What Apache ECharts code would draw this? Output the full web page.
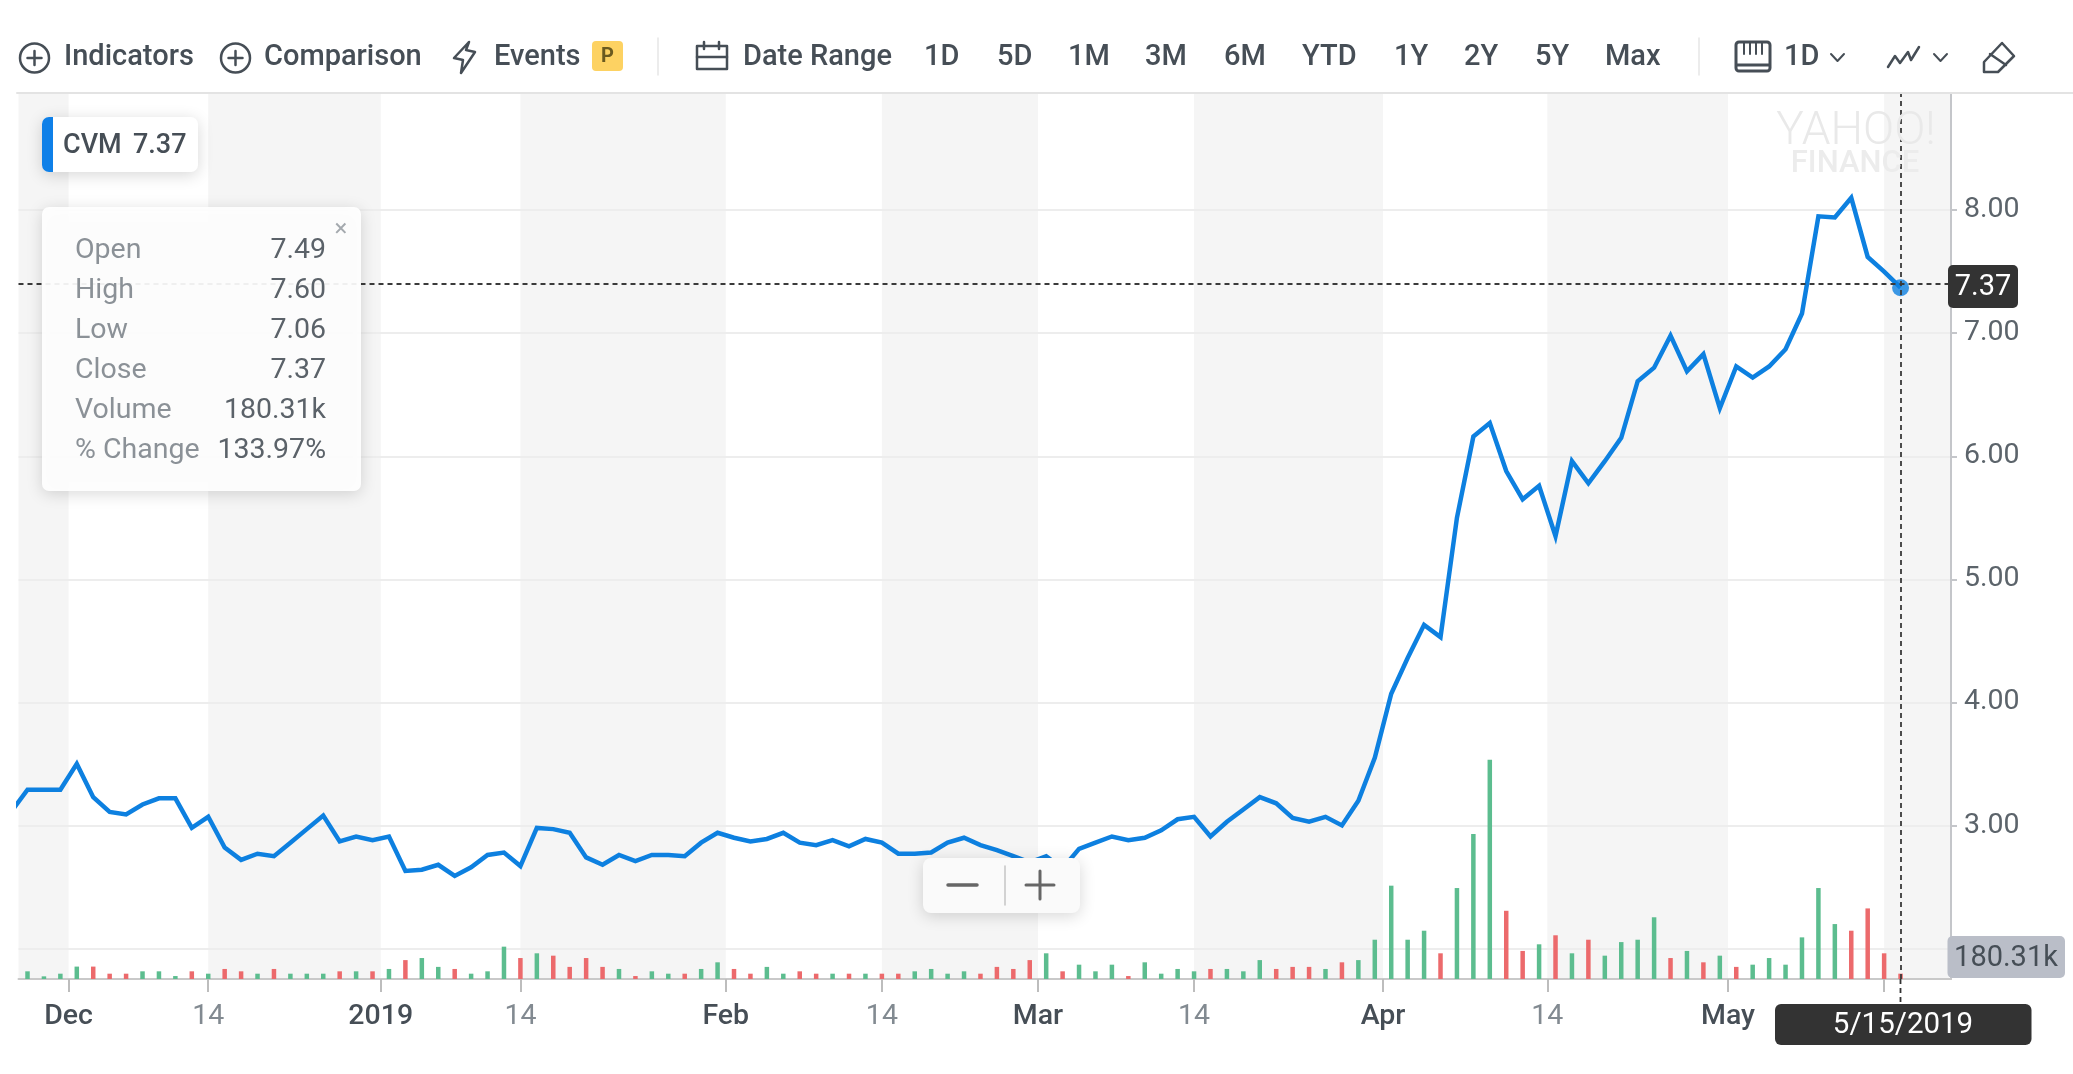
<!DOCTYPE html>
<html>
<head>
<meta charset="utf-8">
<title>CVM</title>
<script src="https://cdn.jsdelivr.net/npm/echarts@6/dist/echarts.min.js"></script>
<style>
html, body { margin: 0; padding: 0; background: #fff; }
#main { width: 2073px; height: 1074px; }
</style>
</head>
<body>
<div id="main"></div>
<script>
// one entry per trading day, first one is 11/27/2018, last one is 5/15/2019
var closes = [
    3.11, 3.29, 3.29, 3.29, 3.50, 3.23, 3.11, 3.09, 3.17, 3.22,
    3.22, 2.98, 3.07, 2.82, 2.72, 2.77, 2.75, 2.86, 2.97, 3.08,
    2.87, 2.91, 2.88, 2.91, 2.63, 2.64, 2.68, 2.59, 2.66, 2.76,
    2.78, 2.67, 2.98, 2.97, 2.94, 2.74, 2.68, 2.76, 2.71, 2.76,
    2.76, 2.75, 2.86, 2.94, 2.90, 2.87, 2.89, 2.94, 2.86, 2.84,
    2.88, 2.83, 2.89, 2.86, 2.77, 2.77, 2.78, 2.86, 2.90, 2.84,
    2.80, 2.75, 2.70, 2.75, 2.65, 2.81, 2.86, 2.91, 2.88, 2.90,
    2.96, 3.05, 3.07, 2.91, 3.03, 3.13, 3.23, 3.18, 3.06, 3.03,
    3.07, 3.00, 3.20, 3.55, 4.07, 4.36, 4.63, 4.53, 5.50, 6.16,
    6.27, 5.88, 5.65, 5.76, 5.35, 5.96, 5.78, 5.96, 6.15, 6.61,
    6.72, 6.98, 6.69, 6.83, 6.39, 6.73, 6.64, 6.73, 6.87, 7.16,
    7.95, 7.94, 8.10, 7.62, 7.50, 7.37
];
// volume in thousands
var volumes = [
    null, 260, 90, 180, 420, 420, 180, 180, 260, 260,
    100, 260, 180, 340, 260, 180, 340, 180, 180, 180,
    260, 260, 260, 340, 640, 710, 410, 340, 180, 260,
    1095, 710, 870, 790, 410, 710, 410, 340, 100, 260,
    180, 180, 340, 565, 340, 180, 410, 180, 260, 180,
    180, 180, 180, 180, 180, 260, 340, 180, 260, 180,
    410, 340, 640, 870, 260, 485, 260, 485, 100, 565,
    180, 340, 260, 340, 340, 260, 640, 340, 410, 410,
    340, 565, 640, 1330, 3160, 1330, 1635, 870, 3080, 4910,
    7420, 2310, 950, 1175, 1480, 870, 1330, 790, 1250, 1330,
    2090, 710, 950, 565, 790, 410, 485, 710, 485, 1410,
    3080, 1860, 1635, 2390, 870, 180.31
];
// 1 = close above the previous day (green), 0 = below (red)
var volumeUp = [
    1, 1, 1, 1, 1, 0, 0, 0, 1, 1,
    1, 0, 1, 0, 0, 1, 0, 1, 1, 1,
    0, 1, 0, 1, 0, 1, 1, 0, 1, 1,
    1, 0, 1, 0, 0, 0, 0, 1, 0, 1,
    1, 0, 1, 1, 0, 0, 1, 1, 0, 0,
    1, 0, 1, 0, 0, 1, 1, 1, 1, 0,
    0, 0, 0, 1, 0, 1, 1, 1, 0, 1,
    1, 1, 1, 0, 1, 1, 1, 0, 0, 0,
    1, 0, 1, 1, 1, 1, 1, 0, 1, 1,
    1, 0, 0, 1, 0, 1, 0, 1, 1, 1,
    1, 0, 1, 0, 1, 0, 1, 1, 1, 1,
    1, 1, 0, 0, 0
];
var tickLabels = ['Dec', '14', '2019', '14', 'Feb', '14', 'Mar', '14', 'Apr', '14', 'May', '14'];
var tickDays = [3.5, 12, 22.5, 31, 43.5, 53, 62.5, 72, 83.5, 93.5, 104.5, 114];
var priceTicks = [2, 3, 4, 5, 6, 7, 8];
var tipLabels = ['Open', 'High', 'Low', 'Close', 'Volume', '% Change'];
var tipValues = ['7.49', '7.60', '7.06', '7.37', '180.31k', '133.97%'];
var rangeLabels = ['1D', '5D', '1M', '3M', '6M', 'YTD', '1Y', '2Y', '5Y', 'Max'];

var lastDay = closes.length - 1;
var cursorPrice = 7.40;
var dayMin = 0.452, dayMax = 118.07;
var FONT = 'Roboto, sans-serif';
var DARK = '#464e56';

function closeData() {
    var out = [];
    for (var i = 0; i < closes.length; i++) {
        out.push([i, closes[i]]);
    }
    return out;
}

function volumeData() {
    var out = [];
    for (var i = 0; i < volumes.length; i++) {
        out.push({
            value: [i, volumes[i]],
            itemStyle: { color: volumeUp[i] ? '#5cbd8f' : '#ec6a6c' }
        });
    }
    return out;
}

// grey bands run between every other month tick
function bandData() {
    var out = [[{ xAxis: dayMin }, { xAxis: tickDays[0] }]];
    for (var i = 1; i < tickDays.length; i += 2) {
        out.push([{ xAxis: tickDays[i] }, { xAxis: i + 1 < tickDays.length ? tickDays[i + 1] : dayMax }]);
    }
    return out;
}

function txt(x, y, text, fontSize, fill, align, weight) {
    return {
        type: 'text', z: 100,
        style: {
            x: x, y: y, text: text, fill: fill || DARK, align: align || 'left', verticalAlign: 'middle',
            fontFamily: FONT, fontSize: fontSize || 29, fontWeight: weight || 400
        }
    };
}

function stroke(shapeType, shape, width, color) {
    return {
        type: shapeType, z: 100, shape: shape,
        style: { fill: 'none', stroke: color || DARK, lineWidth: width || 2.5, lineJoin: 'round', lineCap: 'round' }
    };
}

function seg(x1, y1, x2, y2, width, color) {
    return stroke('line', { x1: x1, y1: y1, x2: x2, y2: y2 }, width, color);
}

function poly(points, width, color) {
    return stroke('polyline', { points: points }, width, color);
}

function box(x, y, w, h, r, fill, shadow, z) {
    var style = { fill: fill };
    if (shadow) {
        style.shadowBlur = 16;
        style.shadowColor = 'rgba(0,0,0,0.16)';
        style.shadowOffsetY = 3;
    }
    return { type: 'rect', z: z || 100, shape: { x: x, y: y, width: w, height: h, r: r }, style: style };
}

function plusCircle(cx, cy) {
    return [
        stroke('circle', { cx: cx, cy: cy, r: 14.5 }),
        seg(cx - 7, cy, cx + 7, cy),
        seg(cx, cy - 7, cx, cy + 7)
    ];
}

function toolbar() {
    var rangeX = [924, 997, 1068, 1145, 1224, 1302, 1394, 1464, 1535, 1605];
    var els = [];
    els = els.concat(plusCircle(34.5, 58), plusCircle(235.5, 58));
    els.push(txt(64, 58, 'Indicators', 29, DARK, 'left', 500));
    els.push(txt(264, 58, 'Comparison', 29, DARK, 'left', 500));
    els.push(stroke('polygon', { points: [[469, 42], [454, 58], [463, 60], [461, 73], [475, 52], [466, 50]] }));
    els.push(txt(494, 58, 'Events', 29, DARK, 'left', 500));
    els.push(box(592, 41, 31, 30, 4, '#fdd262'));
    els.push(txt(607.5, 57, 'P', 20, '#6b5a1f', 'center', 700));
    els.push(seg(658, 38, 658, 75, 1.5, '#e6e6e6'));
    // calendar
    els.push(stroke('rect', { x: 697, y: 46, width: 30, height: 23 }));
    els.push(seg(697, 57, 727, 57));
    els.push(seg(704, 42, 704, 49));
    els.push(seg(719, 42, 719, 49));
    els.push(txt(743, 58, 'Date Range', 29, DARK, 'left', 500));
    for (var i = 0; i < rangeLabels.length; i++) {
        els.push(txt(rangeX[i], 58, rangeLabels[i], 29, DARK, 'left', 500));
    }
    els.push(seg(1699, 38, 1699, 75, 1.5, '#e6e6e6'));
    // candle width icon
    els.push(stroke('rect', { x: 1736, y: 42, width: 34, height: 29, r: 3 }, 3));
    els.push(seg(1737, 65, 1769, 65, 3));
    for (var k = 0; k < 4; k++) {
        els.push(seg(1744 + k * 6, 43, 1744 + k * 6, 54, 2));
    }
    els.push(txt(1784, 58, '1D', 29, DARK, 'left', 500));
    els.push(poly([[1831, 54], [1837.5, 61], [1844, 54]], 2));
    els.push(poly([[1888, 67], [1895, 56], [1900, 63], [1908, 52], [1911, 60], [1919, 47]], 2.5));
    els.push(poly([[1934, 54], [1940.5, 61], [1947, 54]], 2));
    // eraser
    els.push(stroke('polygon', { points: [[2002, 43], [2014, 56], [1998, 72], [1984, 72], [1984, 62]] }));
    els.push(seg(1990, 54, 2006, 65));
    els.push(seg(17, 93, 2073, 93, 2, '#e3e3e3'));
    return els;
}

function tipPanel() {
    var els = [];
    els.push(box(42, 207, 319, 284, 7, 'rgba(255,255,255,0.92)', true));
    els.push(txt(341, 230, '\u00d7', 24, '#a4a9ae', 'center'));
    for (var i = 0; i < tipLabels.length; i++) {
        els.push(txt(75, 251 + i * 40, tipLabels[i], 28.5, '#8b9197'));
        els.push(txt(326, 251 + i * 40, tipValues[i], 28.5, '#5b6269', 'right'));
    }
    return els;
}

function overlays() {
    var els = [];
    // series badge
    els.push(box(42, 117, 156, 55, 7, '#fff', true));
    els.push(box(42, 117, 11, 55, [7, 0, 0, 7], '#0f80e8'));
    els.push(txt(63, 146, 'CVM', 27, DARK, 'left', 500));
    els.push(txt(133, 146, '7.37', 27, DARK, 'left', 500));
    // watermark
    els.push(txt(1856, 132, 'YAHOO!', 46, '#e9e9e9', 'center', 300));
    els.push(txt(1855, 164, 'FINANCE', 31, '#ececec', 'center', 500));
    // zoom buttons
    els.push(box(923, 858, 157, 55, 8, '#fafafa', true));
    els.push(seg(948, 885, 977, 885, 3.5, '#666'));
    els.push(seg(1005, 866, 1005, 905, 1.5, '#c4c4c4'));
    els.push(seg(1026, 885, 1054, 885, 3, '#666'));
    els.push(seg(1040, 871, 1040, 899, 3, '#666'));
    // current price and volume flags
    els.push(box(1948, 265, 70, 43, 5, '#333333'));
    els.push(txt(1983, 288, '7.37', 29, '#fff', 'center'));
    els.push(box(1947.5, 936, 117.5, 42, 5, '#babec8'));
    els.push(txt(2006, 959, '180.31k', 29, DARK, 'center'));
    // cursor date
    var tail = seg(1900.5, 979, 1900.5, 1004, 1.8, '#333');
    tail.style.lineDash = [5, 4];
    tail.style.lineCap = 'butt';
    els.push(tail);
    els.push(box(1775, 1004, 256.5, 41, 6, '#333333'));
    els.push(txt(1903, 1026, '5/15/2019', 29.5, '#fff', 'center'));
    return els;
}

var chart = echarts.init(document.getElementById('main'), null, { renderer: 'canvas' });

chart.setOption({
    animation: false,
    backgroundColor: '#fff',
    graphic: { elements: toolbar().concat(tipPanel(), overlays()) },
    grid: { left: 18.5, right: 122, top: 93, bottom: 95, containLabel: false },
    xAxis: {
        type: 'value',
        min: dayMin,
        max: dayMax,
        splitLine: { show: false },
        axisLine: { show: true, onZero: false, lineStyle: { color: '#c9c9c9', width: 2 } },
        axisTick: { show: true, customValues: tickDays, length: 13, lineStyle: { color: '#bdbdbd', width: 2 } },
        axisLabel: {
            customValues: tickDays,
            margin: 23,
            hideOverlap: false,
            formatter: function (v) {
                var s = tickLabels[tickDays.indexOf(v)];
                return s === '14' ? '{minor|' + s + '}' : '{major|' + s + '}';
            },
            rich: {
                major: { fontFamily: FONT, fontSize: 28.5, fontWeight: 500, color: DARK },
                minor: { fontFamily: FONT, fontSize: 28.5, color: '#828a91' }
            }
        }
    },
    yAxis: [{
        type: 'value',
        position: 'right',
        min: 1.752,
        max: 8.952,
        axisLine: { show: true, lineStyle: { color: '#c4c6ca', width: 2 } },
        axisTick: { show: true, customValues: priceTicks, length: 6, lineStyle: { color: '#c4c6ca', width: 2 } },
        splitLine: { show: true, lineStyle: { color: '#ededed', width: 2 } },
        axisLabel: {
            customValues: priceTicks,
            margin: 13,
            padding: [2, 0, 0, 0],
            fontFamily: FONT,
            fontSize: 28.5,
            color: '#5c646b',
            formatter: function (v) { return v.toFixed(2); }
        }
    }, {
        type: 'value',
        min: 0,
        max: 30000,
        show: false
    }],
    series: [{
        name: 'Volume',
        type: 'bar',
        yAxisIndex: 1,
        barWidth: 4.5,
        data: volumeData(),
        z: 2
    }, {
        name: 'CVM',
        type: 'line',
        data: closeData(),
        showSymbol: false,
        symbol: 'none',
        lineStyle: { color: '#0d80e0', width: 4.5, join: 'miter' },
        z: 3,
        markArea: {
            silent: true,
            z: -1,
            itemStyle: { color: '#f5f5f5' },
            data: bandData()
        },
        markLine: {
            silent: true,
            symbol: 'none',
            z: 5,
            label: { show: false },
            lineStyle: { color: '#3a3a3a', type: [5, 4], width: 1.8 },
            data: [{ xAxis: lastDay }, { yAxis: cursorPrice }]
        }
    }, {
        name: 'Last',
        type: 'scatter',
        data: [[lastDay, closes[lastDay]]],
        symbolSize: 17,
        itemStyle: { color: '#0d80e0' },
        z: 4
    }]
});
</script>
</body>
</html>
